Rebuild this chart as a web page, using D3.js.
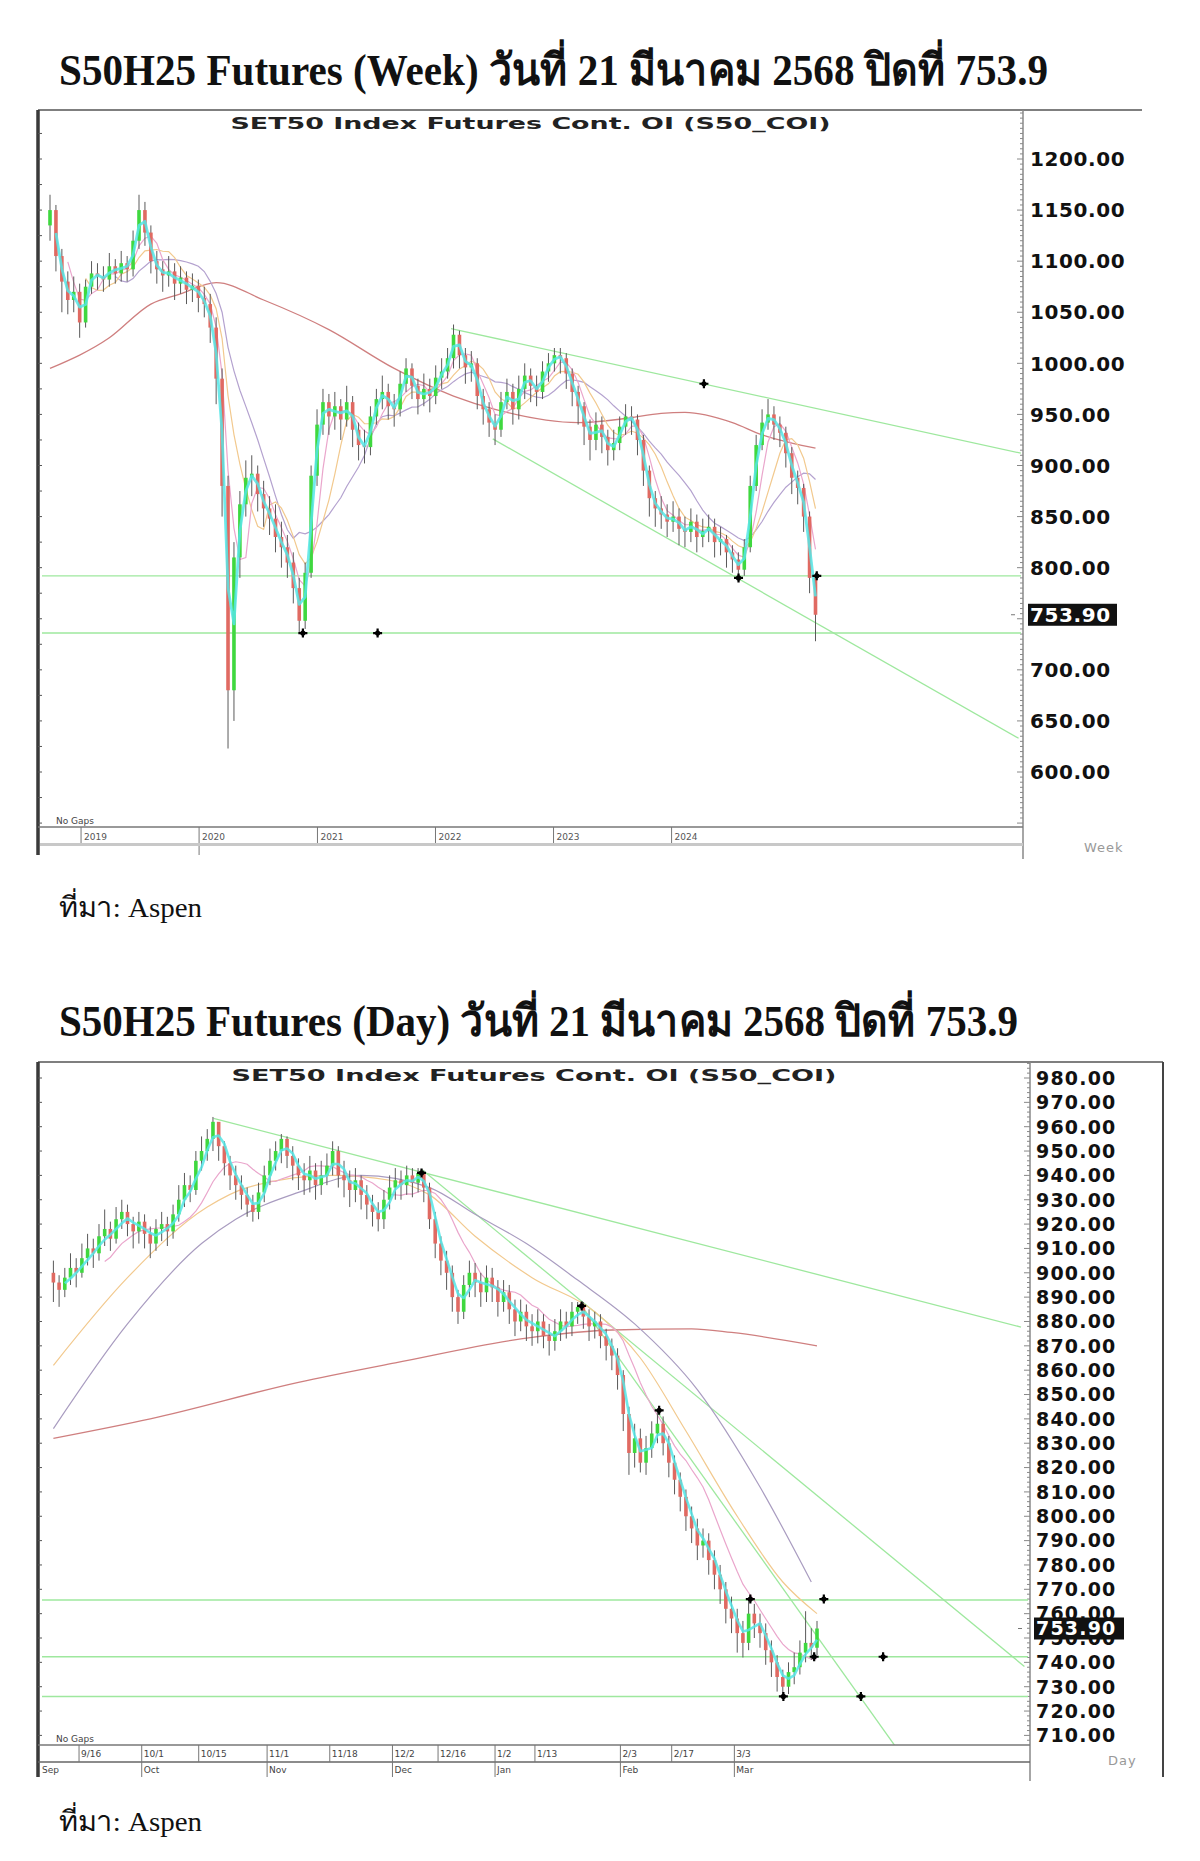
<!DOCTYPE html>
<html><head><meta charset="utf-8">
<script src="https://cdn.jsdelivr.net/npm/d3@7"></script>
<style>body{margin:0;background:#fff;} svg{display:block}</style>
</head><body>
<svg id="c" width="1200" height="1861"></svg>
<script>
// ---------------- DATA ----------------
const weekTitle = "S50H25 Futures (Week) วันที่ 21 มีนาคม 2568 ปิดที่ 753.9";
const dayTitle = "S50H25 Futures (Day) วันที่ 21 มีนาคม 2568 ปิดที่ 753.9";
const chartName = "SET50  Index  Futures  Cont.  OI  (S50_COI)";
const sourceText = "ที่มา: Aspen";
const lastPrice = 753.9;

// weekly candles (evenly spaced from first to last date)
const weekFirstDate = "2018-09-27", weekLastDate = "2025-03-21";
const weekFirstOpen = 1135;
const weekClose = [1150,1105,1080,1062,1070,1040,1075,1088,1085,1082,
1095,1088,1098,1092,1120,1150,1128,1100,1092,1086,
1090,1078,1084,1072,1076,1064,1058,1035,985,880,
680,810,862,888,892,872,858,848,830,820,
805,780,748,795,890,940,962,948,958,945,
962,935,920,918,948,965,972,958,955,980,
995,978,965,975,968,986,992,1005,1028,1008,
996,1000,968,955,942,935,962,972,955,975,
988,978,972,992,1000,1008,1005,990,972,958,
938,925,940,928,915,922,938,948,945,925,
895,868,858,852,845,850,838,835,845,830,
836,840,825,828,815,808,798,820,880,920,
942,950,940,932,912,888,878,850,790,753.9];
const weekHigh = [1165,1155,1112,1090,1085,1078,1082,1100,1098,1095,
1108,1102,1110,1105,1130,1165,1158,1135,1110,1100,
1105,1098,1095,1090,1088,1082,1075,1068,1045,995,
890,825,875,905,910,900,885,870,862,845,
832,815,790,805,900,955,975,970,972,965,
978,968,942,935,958,975,988,980,970,992,
1005,1000,985,990,985,998,1005,1015,1038,1032,
1015,1012,1005,975,962,950,972,985,980,988,
1000,995,988,1002,1010,1015,1015,1010,995,978,
962,945,952,948,935,935,948,960,958,950,
930,900,875,870,862,865,858,850,858,852,
848,852,848,840,832,822,815,828,890,930,
955,965,958,948,938,918,895,882,855,795];
const weekLow = [1120,1090,1050,1048,1050,1025,1035,1068,1072,1070,
1075,1078,1080,1080,1085,1112,1115,1088,1078,1070,
1075,1062,1068,1058,1060,1050,1045,1020,960,850,
623,650,790,850,870,855,840,832,815,800,
790,765,735,740,790,880,930,930,935,925,
938,918,905,902,910,940,955,945,938,948,
972,965,950,958,952,960,975,985,995,995,
980,982,955,940,928,920,928,955,940,945,
965,962,958,965,982,992,990,975,958,940,
920,905,915,912,900,905,915,930,930,910,
880,850,840,838,830,835,822,820,825,815,
820,825,810,812,800,795,788,792,815,875,
915,935,925,918,898,872,862,835,775,728];
// long moving average: [candle index, value]
const weekLongMA = [[0,995],[10,1025],[17,1058],[22,1068],[28,1079],[36,1062],[47,1033],[58,995],
[68,968],[75,955],[89,942],[97,946],[103,951],[107,952],[115,942],[120,930],[125,922],[129,917]];
// 750.00 is hidden under the last-price box in the reference
const weekTicks = [600,650,700,800,850,900,950,1000,1050,1100,1150,1200];
const weekYears = ["2019","2020","2021","2022","2023","2024"];
const weekSupport = [792, 736];
const weekTrend = [[["2022-02-18",1034],["2026-12-16",912]],[["2022-06-27",926],["2026-12-09",633]]];
const weekMarkers = [["2020-11-17",736],["2021-07-06",736],["2024-04-10",980],["2024-07-26",790],["2025-03-25",792]];

// daily candles (trading-day index)
const dayFirstOpen = 900;
const dayClose = [896,893,898,902,900,906,910,908,915,918,
914,922,925,920,917,921,916,912,918,920,
917,924,930,936,934,946,950,955,962,952,
945,940,936,932,928,925,933,940,946,950,
955,948,944,940,938,942,936,940,944,950,
940,938,934,938,932,928,925,922,930,935,
938,936,940,937,941,935,922,912,905,900,
890,884,895,900,896,892,898,894,888,892,
885,880,884,878,876,880,874,872,876,880,
878,884,886,882,878,880,874,870,866,858,
842,826,832,822,828,834,838,830,822,815,
808,800,795,788,790,782,776,770,762,758,
752,748,760,756,752,745,740,734,730,736,
738,744,748,746,753.9];
const dayHigh = [905,899,902,908,906,912,916,914,920,926,
921,927,930,928,923,925,924,919,922,925,
923,928,936,941,940,950,956,959,964,960,
954,948,944,940,935,932,937,944,951,954,
957,956,952,947,945,948,945,946,949,954,
952,946,942,943,940,936,932,929,934,940,
943,942,944,943,943,942,937,925,915,909,
903,893,899,905,904,900,903,902,897,897,
895,889,889,887,883,885,883,879,881,885,
884,888,888,888,885,884,883,877,873,869,
860,845,838,836,833,839,844,841,833,825,
818,811,804,799,795,793,786,780,773,767,
762,757,766,764,760,756,749,743,737,740,
744,749,761,754,757];
const dayLow = [888,886,890,895,894,898,903,902,905,911,
909,912,918,915,910,912,910,906,909,913,
911,914,921,927,929,932,942,946,950,946,
940,934,930,926,923,921,922,929,936,942,
945,943,938,934,932,933,930,932,936,940,
935,931,927,929,926,922,919,917,918,926,
930,930,932,931,933,929,918,906,899,893,
884,879,881,890,890,886,888,888,882,884,
879,874,876,872,870,871,869,866,868,872,
873,874,879,877,872,873,869,864,860,852,
835,817,820,818,817,824,830,825,816,809,
802,794,789,782,783,776,770,764,756,752,
744,742,745,750,746,739,734,728,725,727,
731,735,740,741,743];
const dayOrangeMA = [[0,862],[13,898],[27,927],[34,935],[49,940],[59,938],[66,932],[74,915],[84,898],[95,884],[103,865],[111,835],[120,800],[128,773],[134,760]];
const dayPurpleMA = [[0,836],[13,879],[26,912],[32,922],[43,933],[54,940],[66,935],[74,924],[83,912],[92,897],[102,879],[113,852],[124,812],[133,773]];
const dayLongMA = [[0,832],[17,840],[43,855],[60,863],[84,873.5],[98,876.5],[112,877],[119,875.5],[134,870]];
const dayTicks = [710,720,730,740,750,760,770,780,790,800,810,820,830,840,850,860,870,880,890,900,910,920,930,940,950,960,970,980];
const dayDateIdx = [5,16,26,38,49,60,68,78,85,100,109,120];
const dayDateLabels = ["9/16","10/1","10/15","11/1","11/18","12/2","12/16","1/2","1/13","2/3","2/17","3/3"];
const dayMonthIdx = [0,16,38,60,78,100,120];
const dayMonthLabels = ["Sep","Oct","Nov","Dec","Jan","Feb","Mar"];
const daySupport = [765.6, 742.3, 726];
const dayTrend = [[[28.1,963.4],[169.8,877.7]],[[64.6,942.5],[170.4,738.3]],[[92.7,886.4],[147.9,705]]];
const dayMarkers = [[64.6,941],[92.7,886.4],[106.3,843.5],[122.3,766],[135.2,766],[133.5,742.3],[145.6,742.3],[128.1,726],[141.7,726]];

// ---------------- DRAWING ----------------
const svg = d3.select("#c");
const SERIF = "'Liberation Serif','Times New Roman',serif";
const SANS = "'DejaVu Sans',Verdana,sans-serif";
const C = {up:"#3fd83f", down:"#e06a62", wick:"#5a5a5a", cyan:"#55e6e6", pink:"#eaa6cc",
  orange:"#f2c98e", purple:"#b4a2cf", brown:"#cf7f7f", green:"#9ee89e"};

function sma(arr, n){ return arr.map((v,i)=> i<n-1 ? null : d3.mean(arr.slice(i-n+1,i+1))); }

function headText(txt, x, y, len){
  svg.append("text").attr("x",x).attr("y",y).attr("font-family",SERIF).attr("font-weight","bold")
    .attr("font-size",44).attr("fill","#111").attr("textLength",len).attr("lengthAdjust","spacingAndGlyphs").text(txt);
}
function srcText(y){
  svg.append("text").attr("x",59).attr("y",y).attr("font-family",SERIF).attr("font-size",28)
    .attr("fill","#111").attr("textLength",143).attr("lengthAdjust","spacingAndGlyphs").text(sourceText);
}

function chart(cfg){
  const g = svg.append("g");
  const {x0,yTop,xSep,xRight,yStrip,yBottom,y} = cfg;
  const clipId = "clip"+cfg.id;
  svg.append("clipPath").attr("id",clipId).append("rect")
    .attr("x",x0+2).attr("y",yTop+1).attr("width",xSep-x0-2).attr("height",yStrip-yTop-1);
  // frame
  g.append("line").attr("x1",x0).attr("x2",xRight).attr("y1",yTop).attr("y2",yTop).attr("stroke","#555").attr("stroke-width",1.5);
  if(cfg.rightBorder) g.append("line").attr("x1",xRight).attr("x2",xRight).attr("y1",yTop).attr("y2",yBottom).attr("stroke","#444").attr("stroke-width",2);
  g.append("line").attr("x1",x0).attr("x2",x0).attr("y1",yTop).attr("y2",yBottom).attr("stroke","#3a3a3a").attr("stroke-width",3.5);
  g.append("line").attr("x1",xSep).attr("x2",xSep).attr("y1",yTop).attr("y2",yBottom+4).attr("stroke","#888").attr("stroke-width",1.5);
  // separator minor ticks
  const [dmin,dmax] = [y.invert(yStrip), y.invert(yTop)];
  d3.range(Math.ceil(dmin/cfg.minor)*cfg.minor, dmax, cfg.minor).forEach(v=>{
    const yy = y(v); const major = Math.abs(v % cfg.major) < 1e-6;
    g.append("line").attr("x1",xSep-(major?6:3)).attr("x2",xSep).attr("y1",yy).attr("y2",yy).attr("stroke","#888").attr("stroke-width",1);
  });
  // left border ticks
  d3.range(Math.ceil(dmin/cfg.leftTick)*cfg.leftTick, dmax, cfg.leftTick).forEach(v=>{
    g.append("line").attr("x1",x0).attr("x2",x0+4).attr("y1",y(v)).attr("y2",y(v)).attr("stroke","#555").attr("stroke-width",1);
  });
  // plot content
  const p = g.append("g").attr("clip-path",`url(#${clipId})`);
  cfg.support.forEach(v=>{
    p.append("line").attr("x1",x0+4).attr("x2",xSep-2).attr("y1",y(v)).attr("y2",y(v)).attr("stroke",C.green).attr("stroke-width",1.4);
  });
  cfg.trends.forEach(t=>{
    p.append("line").attr("x1",cfg.xOf(t[0][0])).attr("y1",y(t[0][1])).attr("x2",cfg.xOf(t[1][0])).attr("y2",y(t[1][1]))
      .attr("stroke",C.green).attr("stroke-width",1.3);
  });
  const lineIdx = d3.line().defined(d=>d[1]!=null).x(d=>cfg.xi(d[0])).y(d=>y(d[1]));
  const curveIdx = d3.line().curve(d3.curveMonotoneX).x(d=>cfg.xi(d[0])).y(d=>y(d[1]));
  cfg.stored.forEach(s=>{
    p.append("path").attr("d",curveIdx(s.data)).attr("fill","none").attr("stroke",s.color).attr("stroke-width",s.w||1.2);
  });
  cfg.computed.filter(s=>!s.top).forEach(s=>{
    p.append("path").attr("d",lineIdx(s.data.map((v,i)=>[i,v]))).attr("fill","none").attr("stroke",s.color).attr("stroke-width",s.w||1.2);
  });
  // candles
  const cw = cfg.cw;
  cfg.close.forEach((c,i)=>{
    const o = i ? cfg.close[i-1] : cfg.firstOpen;
    const xx = cfg.xi(i);
    p.append("line").attr("x1",xx).attr("x2",xx).attr("y1",y(cfg.high[i])).attr("y2",y(cfg.low[i])).attr("stroke",C.wick).attr("stroke-width",1);
    const top = y(Math.max(o,c)), bot = y(Math.min(o,c));
    p.append("rect").attr("x",xx-cw/2).attr("y",top).attr("width",cw).attr("height",Math.max(1,bot-top))
      .attr("fill", c>=o ? C.up : C.down);
  });
  cfg.computed.filter(s=>s.top).forEach(s=>{
    p.append("path").attr("d",lineIdx(s.data.map((v,i)=>[i,v]))).attr("fill","none").attr("stroke",s.color)
      .attr("stroke-width",s.w).attr("opacity",0.85).attr("stroke-linejoin","round");
  });
  // markers
  cfg.markers.forEach(m=>{
    const mx = cfg.xOf(m[0]), my = y(m[1]);
    p.append("path").attr("d",`M${mx-4.5},${my}H${mx+4.5}M${mx},${my-4.5}V${my+4.5}`).attr("stroke","#000").attr("stroke-width",2.2);
    p.append("circle").attr("cx",mx).attr("cy",my).attr("r",2.6).attr("fill","#000");
  });
  // subtitle
  g.append("text").attr("x",(x0+xSep)/2).attr("y",yTop+19).attr("text-anchor","middle").attr("font-family",SANS)
    .attr("font-weight","bold").attr("font-size",15).attr("fill","#222").attr("textLength",cfg.subLen)
    .attr("lengthAdjust","spacingAndGlyphs").text(chartName);
  // y labels
  cfg.ticks.forEach(v=>{
    g.append("text").attr("x",cfg.labelX).attr("y",y(v)).attr("dy","0.36em").attr("font-family",SANS).attr("font-weight","bold")
      .attr("font-size",cfg.labelSize).attr("letter-spacing",cfg.labelSpacing).attr("fill","#111").text(d3.format(".2f")(v));
  });
  // last price box
  const ly = y(lastPrice);
  g.append("rect").attr("x",cfg.labelX-2).attr("y",ly-11).attr("width",cfg.boxW).attr("height",22).attr("fill","#111");
  g.append("text").attr("x",cfg.labelX).attr("y",ly).attr("dy","0.36em").attr("font-family",SANS).attr("font-weight","bold")
    .attr("font-size",cfg.labelSize).attr("letter-spacing",cfg.labelSpacing).attr("fill","#fff").text(d3.format(".2f")(lastPrice));
  g.append("line").attr("x1",xSep-12).attr("x2",xSep-8).attr("y1",ly).attr("y2",ly).attr("stroke","#777");
  // no gaps
  g.append("text").attr("x",x0+18).attr("y",yStrip-3).attr("font-family",SANS).attr("font-size",9).attr("fill","#444").text("No Gaps");
  // strip
  g.append("line").attr("x1",x0).attr("x2",xSep).attr("y1",yStrip).attr("y2",yStrip).attr("stroke","#777").attr("stroke-width",1.5);
  return g;
}

// ---- WEEKLY ----
headText(weekTitle, 59, 85, 989);
const parse = d3.utcParse("%Y-%m-%d");
const wStart = parse(weekFirstDate), wEnd = parse(weekLastDate);
const wN = weekClose.length;
const wDates = d3.range(wN).map(i => new Date(+wStart + (wEnd - wStart) * i / (wN - 1)));
const xW = d3.scaleUtc().domain([wStart, wEnd]).range([50, 815.5]);
const yW = d3.scaleLinear().domain([600, 1200]).range([772, 159]);
const wk = {x0:38, yTop:110, xSep:1023, xRight:1142, yStrip:827, yBottom:855};
const gW = chart({id:"w", ...wk, y:yW, rightBorder:false,
  xi: i => xW(wDates[0]) + (xW(wDates[wN-1]) - xW(wDates[0])) * i / (wN - 1),
  xOf: d => xW(parse(d)),
  minor:5, major:50, leftTick:25, support:weekSupport, trends:weekTrend, markers:weekMarkers,
  stored:[{data:weekLongMA, color:C.brown, w:1.3}],
  computed:[{data:sma(weekClose,12), color:C.purple},{data:sma(weekClose,7), color:C.orange},
            {data:sma(weekClose,4), color:C.pink},{data:sma(weekClose,2), color:C.cyan, w:2.8, top:true}],
  close:weekClose, high:weekHigh, low:weekLow, firstOpen:weekFirstOpen, cw:3.6,
  ticks:weekTicks, labelX:1030, labelSize:20, labelSpacing:0.6, boxW:89, subLen:600});
// year labels
weekYears.forEach(yr=>{
  const xx = xW(parse(yr+"-01-01"));
  gW.append("line").attr("x1",xx).attr("x2",xx).attr("y1",827).attr("y2",yr==="2020"?855:846).attr("stroke","#777");
  gW.append("text").attr("x",xx+3).attr("y",840).attr("font-family",SANS).attr("font-size",9).attr("fill","#555").text(yr);
});
gW.append("rect").attr("x",40).attr("y",843).attr("width",983).attr("height",3).attr("fill","#c8c8c8");
gW.append("text").attr("x",1084).attr("y",852).attr("font-family",SANS).attr("font-size",13).attr("fill","#999").attr("letter-spacing",1).text("Week");
srcText(917);

// ---- DAILY ----
headText(dayTitle, 59, 1036, 959);
const dN = dayClose.length;
const xD = d3.scaleLinear().domain([0, dN - 1]).range([53.4, 817]);
const yD = d3.scaleLinear().domain([710, 980]).range([1735.4, 1078]);
const dy = {x0:38, yTop:1062, xSep:1030, xRight:1163, yStrip:1745, yBottom:1777};
const gD = chart({id:"d", ...dy, y:yD, rightBorder:true, xi: i => xD(i), xOf: i => xD(i),
  minor:2, major:10, leftTick:10, support:daySupport, trends:dayTrend, markers:dayMarkers,
  stored:[{data:dayLongMA, color:C.brown, w:1.3},{data:dayPurpleMA, color:"#a99cc0", w:1.2},{data:dayOrangeMA, color:C.orange, w:1.2}],
  computed:[{data:sma(dayClose,10), color:C.pink},{data:sma(dayClose,3), color:C.cyan, w:2.6, top:true}],
  close:dayClose, high:dayHigh, low:dayLow, firstOpen:dayFirstOpen, cw:3.6,
  ticks:dayTicks, labelX:1036, labelSize:19, labelSpacing:1.2, boxW:90, subLen:605});
const half = (xD(1) - xD(0)) / 2;
gD.append("line").attr("x1",38).attr("x2",1030).attr("y1",1762).attr("y2",1762).attr("stroke","#666").attr("stroke-width",1.5);
dayDateIdx.forEach((idx,k)=>{
  const xx = xD(idx) - half;
  gD.append("line").attr("x1",xx).attr("x2",xx).attr("y1",1745).attr("y2",1762).attr("stroke","#777");
  gD.append("text").attr("x",xx+2).attr("y",1757).attr("font-family",SANS).attr("font-size",9).attr("fill","#444").text(dayDateLabels[k]);
});
dayMonthIdx.forEach((idx,k)=>{
  const xx = idx === 0 ? 40 : xD(idx) - half;
  if(idx) gD.append("line").attr("x1",xx).attr("x2",xx).attr("y1",1762).attr("y2",1777).attr("stroke","#777");
  gD.append("text").attr("x",xx+2).attr("y",1773).attr("font-family",SANS).attr("font-size",9).attr("fill","#444").text(dayMonthLabels[k]);
});
gD.append("text").attr("x",1108).attr("y",1765).attr("font-family",SANS).attr("font-size",13).attr("fill","#999").attr("letter-spacing",1).text("Day");
srcText(1831);
</script></body></html>
